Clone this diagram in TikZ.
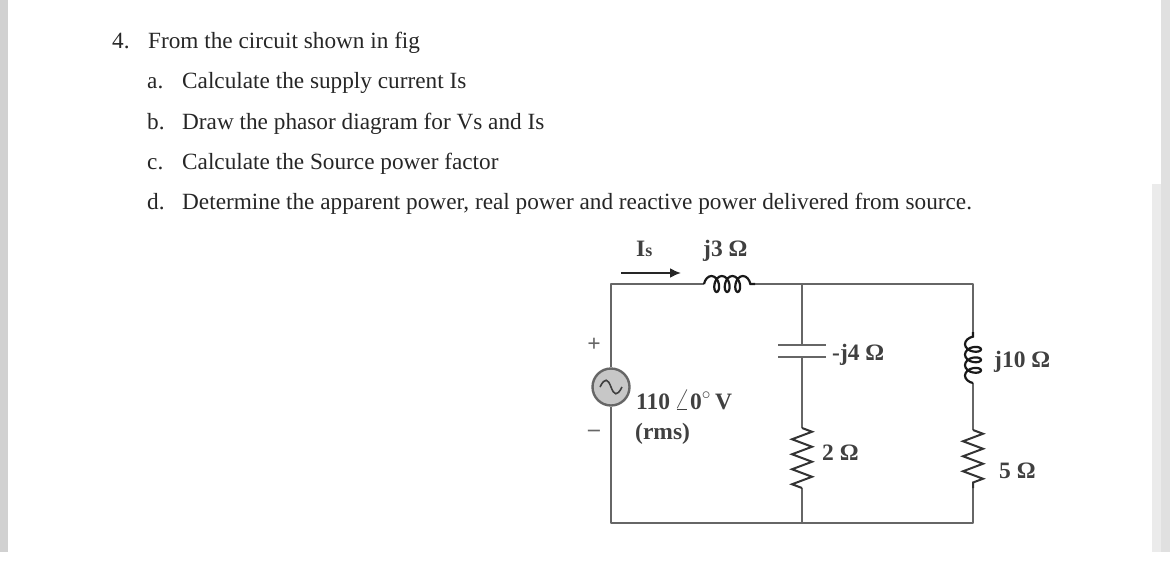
\documentclass[tikz,border=0pt]{standalone}
\usepackage{fontspec}
\setmainfont{Liberation Serif}
\usetikzlibrary{positioning,decorations.pathmorphing,arrows.meta}
\tikzset{
  qline/.style={anchor=base west,inner sep=0pt,text=black!85,font=\fontsize{23.25}{26}\selectfont},
  lbl/.style={inner sep=0pt,text=black!75,font=\fontsize{23.5}{26}\selectfont\bfseries},
  wire/.style={draw=black!60,line width=2.4pt},
  plate/.style={draw=black!60,line width=2.2pt},
  res/.style={draw=black!80,line width=2pt,decorate,decoration={zigzag,amplitude=10pt,segment length=15pt}},
  ind/.style={draw=black!90,line width=2.2pt,decorate,decoration={coil,aspect=0.6,amplitude=8pt,segment length=10.5pt}},
}
\begin{document}
\begin{tikzpicture}[x=1pt,y=-1pt]
  \useasboundingbox (0,0) rectangle (1170,563);
  % page edges
  \fill[black!18] (0,0) rectangle (8,552);
  \fill[black!12] (1161,0) rectangle (1170,552);
  \fill[black!8] (1152,184) rectangle (1161,552);
  % question
  \node(qn)[qline] at (112,48){4.};
  \node(qmain)[qline] at (148,48){From the circuit shown in fig};
  \node(qan)[qline] at (147,88){a.};
  \node(qa)[qline] at (182,88){Calculate the supply current Is};
  \node(qbn)[qline] at (147,129){b.};
  \node(qb)[qline] at (182,129){Draw the phasor diagram for Vs and Is};
  \node(qcn)[qline] at (147,169){c.};
  \node(qc)[qline] at (182,169){Calculate the Source power factor};
  \node(qdn)[qline] at (147,209){d.};
  \node(qd)[qline] at (182,209){Determine the apparent power, real power and reactive power delivered from source.};
  % circuit corners and terminals
  \coordinate(tl) at (611,284);
  \coordinate(tm) at (802,284);
  \coordinate(tr) at (973,284);
  \coordinate(bl) at (611,523);
  \coordinate(bm) at (802,523);
  \coordinate(br) at (973,523);
  \coordinate(lone) at (704,284);
  \coordinate(ltwo) at (755,284);
  \coordinate(cone) at (802,345);
  \coordinate(ctwo) at (802,357);
  \coordinate(rone) at (802,428);
  \coordinate(rtwo) at (802,488);
  \coordinate(lthree) at (973,332);
  \coordinate(lfour) at (973,383);
  \coordinate(rthree) at (973,430);
  \coordinate(rfour) at (973,488);
  \coordinate(ia) at (621,273);
  \coordinate(ib) at (681,273);
  \node(src)[circle,draw=black!60,fill=black!22,line width=2.4pt,minimum size=37pt,inner sep=0pt] at (611,387){};
  % wires
  \draw[wire,line join=round](src)--(tl)--(lone);
  \draw[wire,line join=round](ltwo)--(tr)--(lthree);
  \draw[wire](tm)--(cone);
  \draw[wire](ctwo)--(rone);
  \draw[wire](rtwo)--(bm);
  \draw[wire](lfour)--(rthree);
  \draw[wire,line join=round](rfour)--(br)--(bl)--(src);
  % parts
  \draw[ind](lone)--(ltwo);
  \draw[ind](lfour)--(lthree);
  \draw[res](rone)--(rtwo);
  \draw[res](rthree)--(rfour);
  \draw[plate]([xshift=-24pt]cone)--([xshift=24pt]cone);
  \draw[plate]([xshift=-24pt]ctwo)--([xshift=24pt]ctwo);
  \draw[black!75,line width=1.6pt] (600,387) .. controls (605,377) and (608,379) .. (611,387) .. controls (614,395) and (617,397) .. (622,387);
  \draw[-{Latex[length=11pt,width=10pt]},black!85,line width=2pt](ia)--(ib);
  % labels
  \node(plus)[lbl,text=black!60] at (594,345){+};
  \node(minus)[lbl,text=black!60] at (594,433){--};
  \node(ils)[lbl,anchor=base west] at (636,256){I\fontsize{18}{18}\selectfont s};
  \node(lj)[lbl,anchor=base west] at (703,256){j3 Ω};
  \node(cj)[lbl,anchor=base west] at (832,360){-j4 Ω};
  \node(rj)[lbl,anchor=base west] at (822,460){2 Ω};
  \node(ljj)[lbl,anchor=base west] at (994,367){j10 Ω};
  \node(rjj)[lbl,anchor=base west] at (999,478){5 Ω};
  \node(vs)[lbl,anchor=base west] at (636,409){110\,{\fontsize{30}{30}\selectfont$\angle$}0$^\circ$\,V};
  \node(rms)[lbl,anchor=base west] at (635,439){(rms)};
\end{tikzpicture}
\end{document}
